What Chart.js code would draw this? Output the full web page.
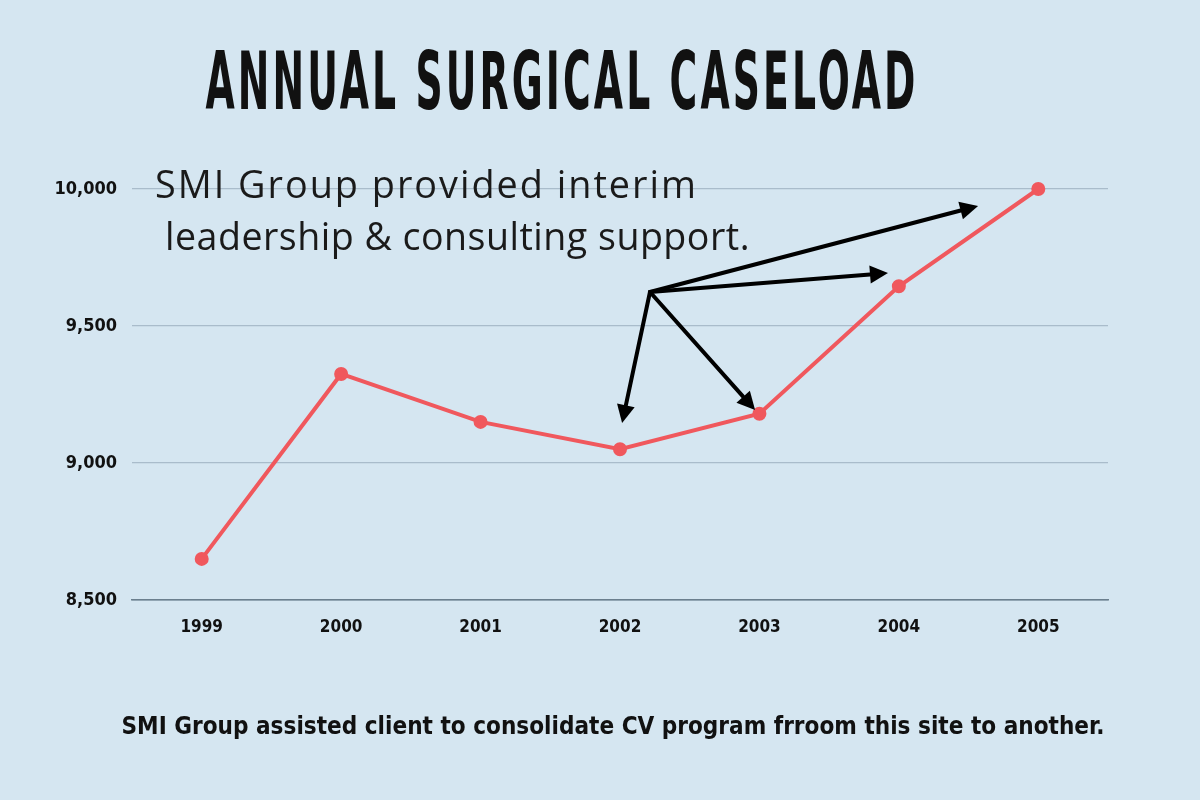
<!DOCTYPE html>
<html>
<head>
<meta charset="utf-8">
<script src="https://cdn.jsdelivr.net/npm/chart.js@4.4.0/dist/chart.umd.min.js"></script>
<style>
html,body{margin:0;padding:0;background:#d5e6f1}
#wrap{width:1200px;height:800px}
</style>
</head>
<body>
<div id="wrap"><canvas id="c" width="1200" height="800"></canvas></div>
<script>
const years=["1999","2000","2001","2002","2003","2004","2005"]
const caseload=[8650,9325,9150,9050,9180,9645,10000]
const yTicks=[8500,9000,9500,10000]
const title="ANNUAL SURGICAL CASELOAD"
const noteLines=["SMI Group provided interim","leadership & consulting support."]
const footer="SMI Group assisted client to consolidate CV program frroom this site to another."
// arrows in data units: [index,value]
const arrowFrom=[3.215,9624]
const arrowTo=[[3.015,9146],[3.969,9193],[4.922,9693],[5.568,9938]]

const condensed="'DejaVu Sans Condensed','Liberation Sans Narrow',sans-serif"

const textPlugin={
id:"texts",
afterDraw(chart){
const ctx=chart.ctx,x=chart.scales.x,y=chart.scales.y
ctx.save()
ctx.fillStyle="#111"
ctx.textAlign="center"
ctx.textBaseline="alphabetic"
ctx.letterSpacing="6px"
ctx.font="bold 80px "+condensed
ctx.fillText(title,562,109,713)
ctx.textAlign="left"
ctx.fillStyle="#1a1a1a"
ctx.font="38px 'Open Sans','Noto Sans',sans-serif"
ctx.letterSpacing="2px"
ctx.fillText(noteLines[0],155,198,543)
ctx.letterSpacing="0.5px"
ctx.fillText(noteLines[1],165,250,585)
ctx.letterSpacing="0px"
ctx.textAlign="center"
ctx.fillStyle="#111"
ctx.font="bold 24.5px "+condensed
ctx.fillText(footer,613,734,983)
// arrows
const sx=x.getPixelForValue(arrowFrom[0]),sy=y.getPixelForValue(arrowFrom[1])
ctx.strokeStyle="#000";ctx.fillStyle="#000";ctx.lineWidth=4;ctx.lineCap="round"
arrowTo.forEach(([i,v])=>{
const ex=x.getPixelForValue(i),ey=y.getPixelForValue(v)
const a=Math.atan2(ey-sy,ex-sx),L=18,W=9
const bx=ex-L*Math.cos(a),by=ey-L*Math.sin(a)
ctx.beginPath();ctx.moveTo(sx,sy);ctx.lineTo(bx,by);ctx.stroke()
ctx.beginPath()
ctx.moveTo(ex,ey)
ctx.lineTo(bx+W*Math.sin(a),by-W*Math.cos(a))
ctx.lineTo(bx-W*Math.sin(a),by+W*Math.cos(a))
ctx.closePath();ctx.fill()
})
ctx.restore()
}
}

new Chart(document.getElementById("c"),{
type:"line",
data:{labels:years,datasets:[{
label:"Annual surgical caseload",
data:caseload,
borderColor:"#f0585d",
backgroundColor:"#f0585d",
borderWidth:4,
pointRadius:5,
pointHoverRadius:5,
tension:0,
clip:false
}]},
options:{
responsive:false,
animation:false,
layout:{padding:{left:0,right:92,top:189,bottom:140}},
plugins:{legend:{display:false},tooltip:{enabled:false},title:{display:false}},
scales:{
x:{
offset:true,
afterFit(s){s.height=60},
grid:{display:false,drawTicks:false},
border:{display:true,color:"#6b7f8e",width:1.5},
ticks:{padding:17,color:"#111",font:{family:condensed,size:17,weight:"bold"}}
},
y:{
min:8500,max:10000,
afterFit(s){s.width=132},
afterBuildTicks(s){s.ticks=yTicks.map(v=>({value:v}))},
grid:{drawTicks:false,color:c=>c.tick&&c.tick.value===8500?"#6b7f8e":"#a9bccb",lineWidth:1.2},
border:{display:false},
ticks:{padding:15,color:"#111",font:{family:condensed,size:18,weight:"bold"},
callback:v=>v.toLocaleString("en-US")}
}
}
},
plugins:[textPlugin]
})
</script>
</body>
</html>
